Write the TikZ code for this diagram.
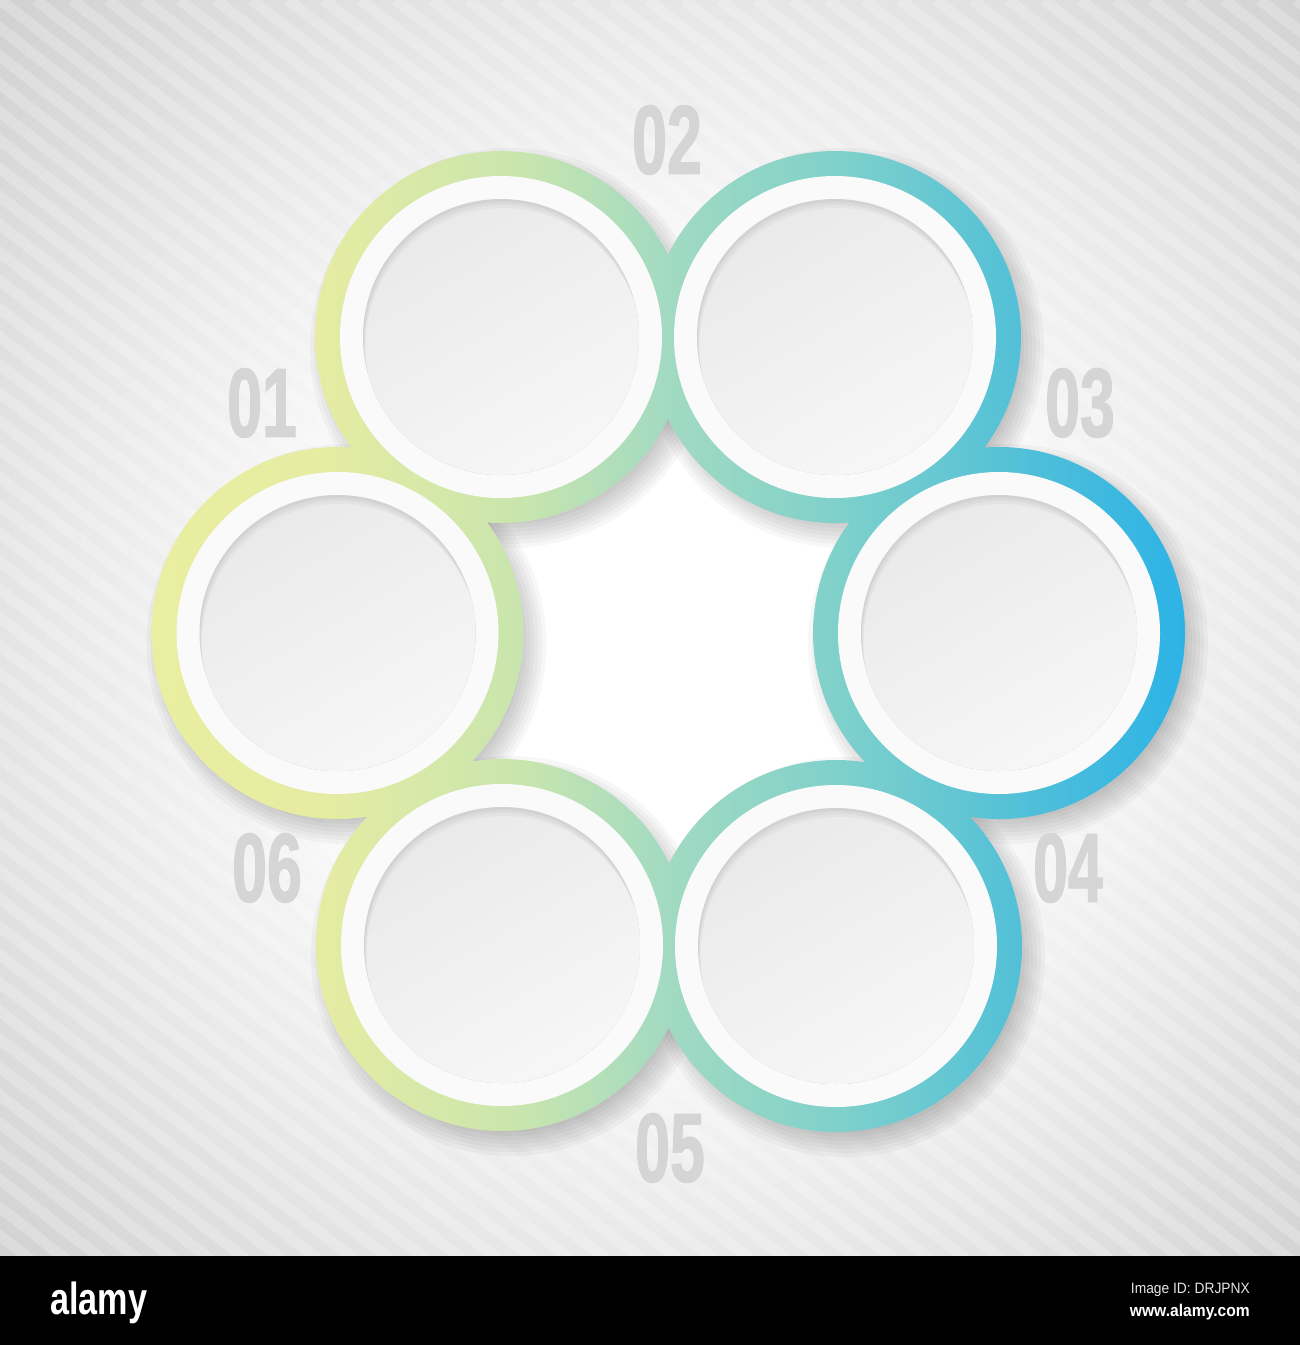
\documentclass[tikz,border=0pt]{standalone}
\usepackage{fontspec}
\newfontfamily\numfont[FakeStretch=0.64,FakeBold=1.2]{Liberation Sans}
\newfontfamily\barfont[FakeStretch=0.92]{Liberation Sans}
\newfontfamily\logofont[FakeStretch=0.76]{Liberation Sans}
\definecolor{rA}{HTML}{E9EEA0}
\definecolor{rB}{HTML}{E6ECA2}
\definecolor{rC}{HTML}{C8E5AE}
\definecolor{rD}{HTML}{A2DAC2}
\definecolor{rE}{HTML}{80D1CA}
\definecolor{rF}{HTML}{52C0D8}
\definecolor{rG}{HTML}{2CB3E6}
\definecolor{bgA}{HTML}{EFEFEF}
\definecolor{bgB}{HTML}{E4E4E4}
\definecolor{bgC}{HTML}{D0D0D0}
\definecolor{diskS1}{HTML}{D2D2D2}
\definecolor{diskS2}{HTML}{DBDBDB}
\definecolor{diskS3}{HTML}{E3E3E3}
\definecolor{diskTop}{HTML}{EAEAEA}
\definecolor{diskBot}{HTML}{F7F7F7}
\definecolor{ringWhite}{HTML}{FAFAFA}
\definecolor{numgray}{HTML}{D5D5D5}
\definecolor{bartext}{HTML}{E6E6E6}
\pgfdeclareradialshading{bgrad}{\pgfpoint{0bp}{0bp}}{color(0bp)=(white); color(8bp)=(white); color(14bp)=(bgA); color(18bp)=(bgB); color(25bp)=(bgC); color(50bp)=(bgC)}
\pgfdeclarehorizontalshading{ringshade}{100bp}{color(0bp)=(rA); color(25bp)=(rA); color(33bp)=(rB); color(43bp)=(rC); color(50bp)=(rD); color(58bp)=(rE); color(67bp)=(rF); color(75bp)=(rG); color(100bp)=(rG)}
\begin{document}
\begin{tikzpicture}[x=1pt,y=-1pt,
  numlabel/.style={font=\numfont\bfseries\fontsize{98pt}{98pt}\selectfont, text=numgray, inner sep=0pt},
  shadowdisk/.style={fill=black, opacity=0.03}
  ]
\useasboundingbox (0,0) rectangle (1300,1345);
% background
\begin{scope}
  \clip (0,0) rectangle (1300,1256);
  \fill[white] (0,0) rectangle (1300,1256);
  \path[shading=bgrad] (668,640) circle[radius=930pt];
  \foreach \t in {-1800,-1764,...,1300}
    \draw[white, opacity=0.22, line width=11pt] (\t,0) -- ++(1724,1345);
\end{scope}
% ring centres
\coordinate (tl) at (501,337);
\coordinate (tr) at (835,337);
\coordinate (ml) at (337.5,633);
\coordinate (mr) at (999,633);
\coordinate (bl) at (502,945);
\coordinate (br) at (836,946);
% soft shadows
\foreach \c in {tl,tr,ml,mr,bl,br}{
  \foreach \k in {0,...,6}{
    \fill[shadowdisk] ([shift={(9,11)}]\c) circle[radius={(176+4*\k)*1pt}];
  }
}
% coloured discs (one union path, one gradient)
\path[shading=ringshade] (tl) circle[radius=186pt] (tr) circle[radius=186pt]
  (ml) circle[radius=186pt] (mr) circle[radius=186pt]
  (bl) circle[radius=186pt] (br) circle[radius=186pt];
% white rings
\foreach \c in {tl,tr,ml,mr,bl,br}{
  \fill[ringWhite] (\c) circle[radius=161pt];
}
% inner recessed discs
\foreach \c in {tl,tr,ml,mr,bl,br}{
  \begin{scope}
    \clip (\c) circle[radius=138pt];
    \fill[diskS1] (\c) circle[radius=139pt];
    \fill[diskS2] ([shift={(0.8,3)}]\c) circle[radius=138pt];
    \fill[diskS3] ([shift={(1.6,6)}]\c) circle[radius=138pt];
    \path[top color=diskTop, bottom color=diskBot, shading angle=30] ([shift={(2.4,9)}]\c) circle[radius=138pt];
  \end{scope}
}
% numbers
\node[numlabel] (n01) at (262,403) {01};
\node[numlabel] (n02) at (667,140) {02};
\node[numlabel] (n03) at (1080,403) {03};
\node[numlabel] (n04) at (1068,868) {04};
\node[numlabel] (n05) at (670,1148) {05};
\node[numlabel] (n06) at (267,868) {06};
% bottom bar
\fill[black] (0,1256) rectangle (1300,1345);
\node[anchor=base west, inner sep=0pt, text=white, font=\logofont\bfseries\fontsize{45pt}{45pt}\selectfont] (logo) at (50,1314) {alamy};
\node[anchor=base east, inner sep=0pt, text=bartext, font=\barfont\fontsize{15pt}{15pt}\selectfont] (imgid) at (1250,1293) {Image ID: DRJPNX};
\node[anchor=base east, inner sep=0pt, text=white, font=\barfont\bfseries\fontsize{17pt}{17pt}\selectfont] (web) at (1250,1316) {www.alamy.com};
\end{tikzpicture}
\end{document}
